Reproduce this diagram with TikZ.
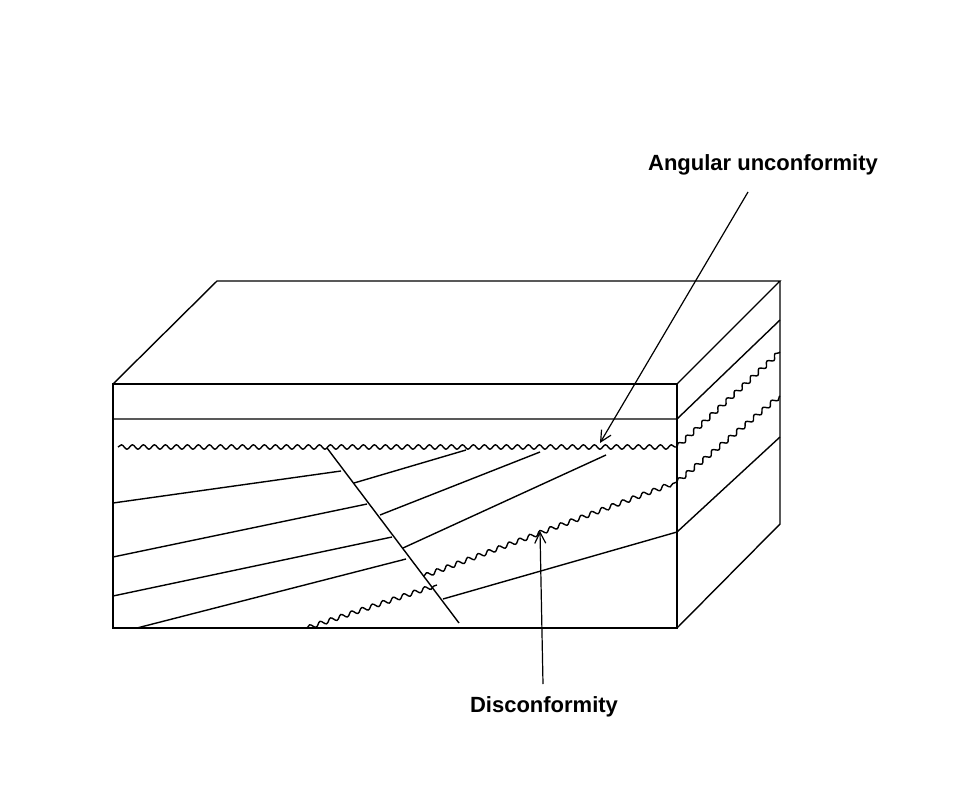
\documentclass[tikz,border=0pt]{standalone}
\usepackage{fontspec}
\setmainfont{Liberation Sans}
\usetikzlibrary{decorations.pathmorphing,arrows.meta}
\begin{document}
\begin{tikzpicture}[x=1pt,y=-1pt,line width=1.4pt,
  wavy/.style={decorate,decoration={snake,segment length=11pt,amplitude=2.2pt}},
  lbl/.style={font=\fontsize{22}{26}\selectfont\bfseries},
  pointer/.style={-{Straight Barb[length=11pt,width=11pt]},line width=1.2pt}]
\useasboundingbox (0,0) rectangle (975,800);
\coordinate (A) at (113,384); \coordinate (B) at (677,384);
\coordinate (C) at (677,628); \coordinate (D) at (113,628);
\coordinate (E) at (217,281); \coordinate (F) at (780,281); \coordinate (G) at (780,524);
\draw (A) -- (B) -- (C) -- (D) -- cycle;
\draw (A) -- (E) -- (F) -- (B);
\draw (F) -- (G) -- (C);
% layers
\draw (113,419) -- (677,419) -- (780,320);
\draw[wavy] (118,447) -- (677,447);
\draw[wavy] (677,447) -- (780,352);
\draw (677,532) -- (780,437);
% fault
\draw (327,448) -- (459,623);
% tilted beds
\draw (113,503) -- (341,471); \draw (354,483) -- (466,450);
\draw (113,557) -- (367,504); \draw (380,515) -- (540,452);
\draw (113,596) -- (392,537); \draw (403,548) -- (606,455);
\draw (137,628) -- (406,559); \draw (443,599) -- (677,532);
% disconformity
\draw[wavy] (307,628) -- (437,585);
\draw[wavy] (424,576) -- (677,482);
\draw[wavy] (677,482) -- (780,396);
% labels
\node[lbl] (au) at (763,165) {Angular unconformity};
\node[lbl] (dc) at (544,707) {Disconformity};
\coordinate (au1) at (600,443);
\coordinate (dc1) at (540,531);
\draw[pointer] (748,192) -- (au1);
\draw[pointer] (543,684) -- (dc1);
\end{tikzpicture}
\end{document}
